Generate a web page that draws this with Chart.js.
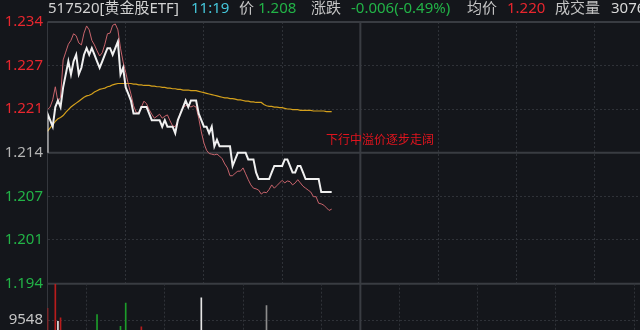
<!DOCTYPE html>
<html>
<head>
<meta charset="utf-8">
<script src="https://cdn.jsdelivr.net/npm/chart.js@4"></script>
<style>
  html, body { margin: 0; padding: 0; background: #14161b; width: 640px; height: 330px; overflow: hidden; }
  #wrap { position: relative; width: 640px; height: 330px; overflow: hidden; }
  #price { position: absolute; left: 0; top: 0; }
  #vol { position: absolute; left: 0; top: 270px; }
  .h { position: absolute; top: -3px; font: 15px "Noto Sans", "Noto Sans CJK SC", sans-serif; line-height: 20px; white-space: nowrap; }
  #note { position: absolute; left: 326px; top: 131px; font: 12px "Noto Sans CJK SC", sans-serif; line-height: 16px; color: #e0141e; white-space: nowrap; }
</style>
</head>
<body>
<div id="wrap">
  <canvas id="price" width="680" height="300"></canvas>
  <canvas id="vol" width="680" height="100"></canvas>
  <span class="h" style="left:48px;color:#d2d2d2">517520[黄金股ETF]</span>
  <span class="h" style="left:191px;color:#45c6da">11:19</span>
  <span class="h" style="left:239px;color:#c4c4c4">价</span>
  <span class="h" style="left:258px;color:#22b347">1.208</span>
  <span class="h" style="left:311px;color:#c4c4c4">涨跌</span>
  <span class="h" style="left:351px;color:#22b347">-0.006(-0.49%)</span>
  <span class="h" style="left:467px;color:#c4c4c4">均价</span>
  <span class="h" style="left:507px;color:#e8262e">1.220</span>
  <span class="h" style="left:555px;color:#c4c4c4">成交量</span>
  <span class="h" style="left:611px;color:#d8d8d8">3076</span>
  <div id="note">下行中溢价逐步走阔</div>
</div>
<script>
// minutes since 9:30, one value per minute up to 11:19
const prevClose = 1.214;
const openPrice = 1.214;

const prices = [
  1.220, 1.219, 1.218, 1.221, 1.222, 1.221, 1.224, 1.226, 1.228, 1.226,
  1.228, 1.229, 1.226, 1.227, 1.229, 1.230, 1.229, 1.230, 1.229, 1.228,
  1.227, 1.228, 1.229, 1.230, 1.230, 1.229, 1.230, 1.231, 1.226, 1.227,
  1.224, 1.223, 1.222, 1.220, 1.220, 1.220, 1.221, 1.221, 1.221, 1.220,
  1.219, 1.219, 1.219, 1.219, 1.218, 1.219, 1.218, 1.218, 1.218, 1.217,
  1.219, 1.220, 1.221, 1.222, 1.221, 1.222, 1.222, 1.222, 1.220, 1.219,
  1.218, 1.218, 1.217, 1.218, 1.215, 1.216, 1.215, 1.215, 1.215, 1.215,
  1.215, 1.212, 1.213, 1.214, 1.214, 1.214, 1.214, 1.213, 1.213, 1.213,
  1.211, 1.210, 1.210, 1.210, 1.210, 1.210, 1.211, 1.212, 1.212, 1.212,
  1.212, 1.213, 1.213, 1.212, 1.211, 1.211, 1.212, 1.212, 1.211, 1.210,
  1.210, 1.210, 1.210, 1.210, 1.210, 1.208, 1.208, 1.208, 1.208, 1.208
];

const navs = [
  1.2206, 1.2210, 1.2221, 1.2241, 1.2218, 1.2225, 1.2282, 1.2294, 1.2306, 1.2312,
  1.2322, 1.2319, 1.2308, 1.2305, 1.2323, 1.2334, 1.2328, 1.2312, 1.2305, 1.2296,
  1.2288, 1.2293, 1.2306, 1.2322, 1.2323, 1.2335, 1.2337, 1.2328, 1.2300, 1.2279,
  1.2263, 1.2245, 1.2230, 1.2212, 1.2202, 1.2201, 1.2210, 1.2219, 1.2215, 1.2206,
  1.2199, 1.2193, 1.2196, 1.2199, 1.2193, 1.2196, 1.2198, 1.2189, 1.2181, 1.2180,
  1.2189, 1.2201, 1.2209, 1.2212, 1.2213, 1.2210, 1.2212, 1.2210, 1.2193, 1.2172,
  1.2155, 1.2144, 1.2139, 1.2138, 1.2137, 1.2138, 1.2135, 1.2131, 1.2123, 1.2117,
  1.2105, 1.2105, 1.2109, 1.2112, 1.2112, 1.2117, 1.2108, 1.2099, 1.2091, 1.2086,
  1.2085, 1.2083, 1.2077, 1.2080, 1.2079, 1.2084, 1.2091, 1.2086, 1.2090, 1.2094,
  1.2098, 1.2094, 1.2097, 1.2096, 1.2091, 1.2094, 1.2099, 1.2094, 1.2089, 1.2086,
  1.2083, 1.2080, 1.2073, 1.2073, 1.2063, 1.2062, 1.2060, 1.2056, 1.2052, 1.2054
];

const avgPrices = [
  1.2173, 1.2178, 1.2183, 1.2188, 1.2192, 1.2194, 1.2197, 1.2202, 1.2206, 1.2210,
  1.2213, 1.2216, 1.2219, 1.2222, 1.2225, 1.2227, 1.2228, 1.2230, 1.2233, 1.2235,
  1.2237, 1.2238, 1.2239, 1.2241, 1.2242, 1.2244, 1.2245, 1.2246, 1.2246, 1.2246,
  1.2246, 1.2246, 1.2246, 1.2245, 1.2245, 1.2244, 1.2244, 1.2243, 1.2243, 1.2243,
  1.2242, 1.2242, 1.2241, 1.2241, 1.2240, 1.2240, 1.2239, 1.2239, 1.2238, 1.2238,
  1.2237, 1.2237, 1.2236, 1.2236, 1.2236, 1.2235, 1.2235, 1.2235, 1.2234, 1.2233,
  1.2232, 1.2231, 1.2230, 1.2229, 1.2228, 1.2227, 1.2226, 1.2225, 1.2224, 1.2224,
  1.2223, 1.2223, 1.2222, 1.2221, 1.2221, 1.2220, 1.2219, 1.2219, 1.2218, 1.2218,
  1.2217, 1.2217, 1.2217, 1.2214, 1.2212, 1.2211, 1.2211, 1.2210, 1.2210, 1.2209,
  1.2209, 1.2208, 1.2207, 1.2207, 1.2206, 1.2206, 1.2206, 1.2205, 1.2205, 1.2205,
  1.2205, 1.2205, 1.2204, 1.2204, 1.2204, 1.2204, 1.2204, 1.2203, 1.2203, 1.2203
];

// only the volume bars tall enough to show above the bottom edge
const volMinutes = [0, 3, 4, 5, 19, 28, 30, 36, 59, 84];
const volValues = [12660, 19000, 9220, 10130, 10970, 7930, 14000, 7780, 15380, 13350];
const volDirs = ['up', 'up', 'flat', 'up', 'down', 'down', 'down', 'up', 'flat', 'gray'];

const priceTicks = [1.194, 1.2007, 1.2073, 1.214, 1.2207, 1.2273, 1.234];
const priceTickLabels = ['1.194', '1.201', '1.207', '1.214', '1.221', '1.227', '1.234'];
const volMax = 19096;
const volTick = 9548;

const gridColor = '#2f3238';
const solidColor = '#393c42';
const barColors = { up: '#b81c1c', down: '#1c9c2a', flat: '#e6e6e6', gray: '#8c8c8c' };

function labelColor(v) {
  if (Math.abs(v - prevClose) < 1e-6) return '#b4b4b4';
  return v > prevClose ? '#e8262e' : '#22b347';
}

const solidLines = {
  id: 'solidLines',
  beforeDatasetsDraw(chart, args, opts) {
    const {ctx, chartArea, scales} = chart;
    ctx.save();
    ctx.strokeStyle = solidColor;
    ctx.lineWidth = 2;
    (opts.y || []).forEach(v => {
      const y = scales.y.getPixelForValue(v);
      ctx.beginPath();
      ctx.moveTo(chartArea.left, y);
      ctx.lineTo(chartArea.right, y);
      ctx.stroke();
    });
    (opts.x || []).forEach(v => {
      const x = scales.x.getPixelForValue(v);
      ctx.beginPath();
      ctx.moveTo(x, chartArea.top);
      ctx.lineTo(x, chartArea.bottom);
      ctx.stroke();
    });
    ctx.restore();
  }
};

Chart.defaults.font.family = '"Noto Sans", sans-serif';
Chart.defaults.font.size = 15;

const xScale = {
  type: 'linear',
  min: 0,
  max: 240,
  ticks: {display: false, stepSize: 30},
  grid: {color: gridColor, drawTicks: false},
  border: {display: false, dash: [2, 2]},
  afterFit: s => { s.height = 0; }
};

new Chart(document.getElementById('price'), {
  type: 'line',
  data: {
    datasets: [
      {
        label: '价',
        data: [{x: 0, y: openPrice}].concat(prices.map((p, i) => ({x: i, y: p}))),
        borderColor: '#f0f0f0',
        borderWidth: 2,
        order: 0
      },
      {
        label: '参考',
        data: navs.map((p, i) => ({x: i, y: p})),
        borderColor: '#c8646c',
        borderWidth: 1,
        order: 1
      },
      {
        label: '均价',
        data: avgPrices.map((p, i) => ({x: i, y: p})),
        borderColor: '#d4a01c',
        borderWidth: 1.2,
        order: 2
      }
    ]
  },
  options: {
    responsive: false,
    animation: false,
    layout: {padding: {top: 22, right: 6.8, bottom: 16.3, left: 0}},
    elements: {point: {radius: 0}, line: {tension: 0}},
    plugins: {
      legend: {display: false},
      tooltip: {enabled: false},
      solidLines: {y: [1.234, prevClose, 1.194], x: [120]}
    },
    scales: {
      x: xScale,
      y: {
        min: 1.194,
        max: 1.234,
        afterBuildTicks: s => { s.ticks = priceTicks.map(v => ({value: v})); },
        afterFit: s => { s.width = 47.5; },
        ticks: {
          padding: 4.5,
          callback: (v, i) => priceTickLabels[i],
          color: c => labelColor(c.tick.value)
        },
        grid: {color: gridColor, drawTicks: false},
        border: {display: true, color: '#34373d', dash: [2, 2]}
      }
    }
  },
  plugins: [solidLines]
});

new Chart(document.getElementById('vol'), {
  type: 'bar',
  data: {
    datasets: [{
      label: '成交量',
      data: volMinutes.map((m, i) => ({x: m, y: volValues[i]})),
      backgroundColor: volDirs.map(d => barColors[d]),
      barThickness: 1
    }]
  },
  options: {
    responsive: false,
    animation: false,
    layout: {padding: {top: 13.7, right: 6.8, bottom: 11, left: 0}},
    plugins: {
      legend: {display: false},
      tooltip: {enabled: false},
      solidLines: {x: [120]}
    },
    scales: {
      x: Object.assign({}, xScale, {offset: false}),
      y: {
        min: 0,
        max: volMax,
        afterBuildTicks: s => { s.ticks = [0, volTick, volMax].map(v => ({value: v})); },
        afterFit: s => { s.width = 47.5; },
        ticks: {
          padding: 4.5,
          color: '#c4c4c4',
          callback: v => v === volTick ? String(volTick) : ''
        },
        grid: {color: c => c.tick && c.tick.value === volTick ? gridColor : 'transparent', drawTicks: false},
        border: {display: true, color: '#34373d', dash: [2, 2]}
      }
    }
  },
  plugins: [solidLines]
});
</script>
</body>
</html>
